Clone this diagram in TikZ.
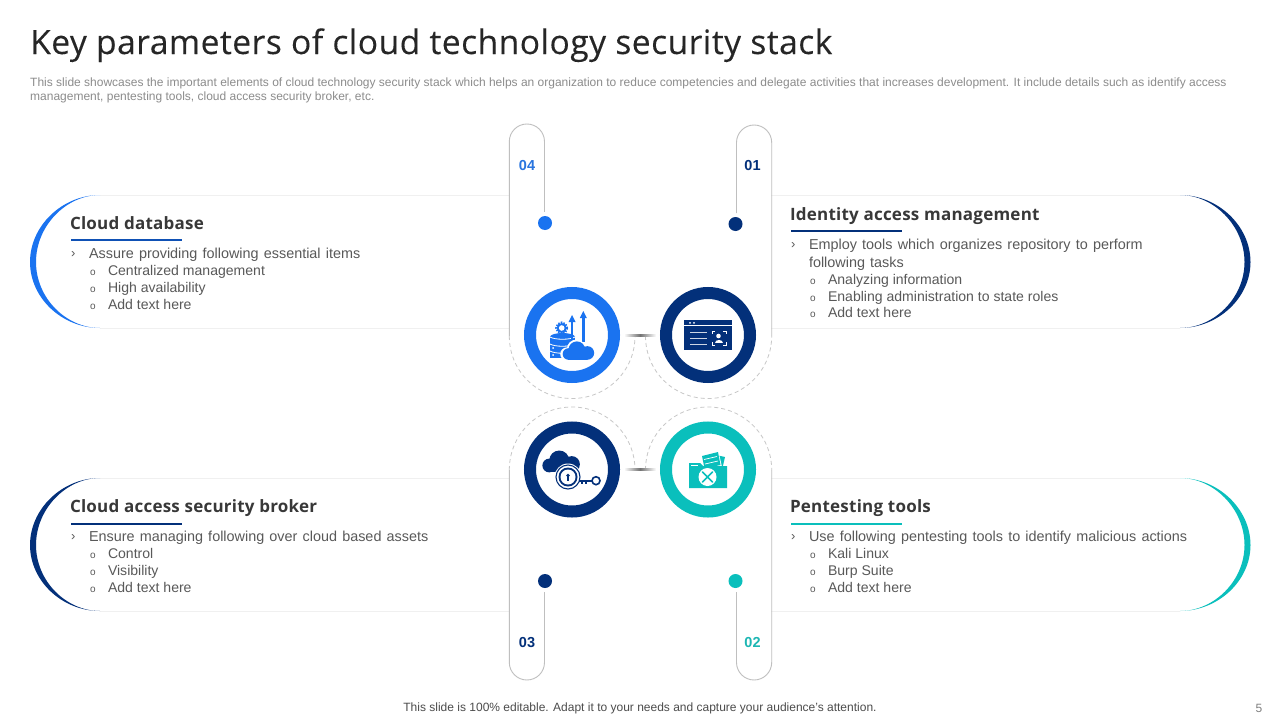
\documentclass[tikz,border=0pt]{standalone}
\usepackage{fontspec}
\setmainfont{Liberation Sans}
\newfontfamily\headfont[LetterSpace=1.4]{Open Sans}
\newfontfamily\titlefont[LetterSpace=1.4,FakeBold=0.12]{Open Sans}
\newfontfamily\lvlone[WordSpace=1.3]{Liberation Sans}
\usetikzlibrary{calc}
\definecolor{cblue}{HTML}{1A73F0}
\definecolor{cnavy}{HTML}{03307A}
\definecolor{cteal}{HTML}{0ABFBC}
\definecolor{rulegray}{HTML}{F0F0F0}
\definecolor{pillgray}{HTML}{BFBFBF}
\definecolor{bodygray}{HTML}{595959}
\newcommand{\fs}[1]{\fontsize{#1}{#1}\selectfont}
\tikzset{
  x=1pt,y=-1pt,
  txt/.style={anchor=base west,inner sep=0pt,outer sep=0pt,text=bodygray,font=\lvlone\fs{14.4}},
  txtb/.style={anchor=base west,inner sep=0pt,outer sep=0pt,text=bodygray,font=\fs{14.05}},
  head/.style={anchor=base west,inner sep=0pt,outer sep=0pt,text=black!78,font=\headfont\bfseries\fs{17}},
  small/.style={anchor=base west,inner sep=0pt,text=gray!90,font=\fs{12}},
  ring/.style={circle,draw=#1,line width=12pt,minimum size=84pt,inner sep=0pt,fill=white},
  halo/.style={circle,fill=white,minimum size=22pt,inner sep=0pt},
  dot/.style={circle,fill=#1,minimum size=14pt,inner sep=0pt},
  num/.style={font=\bfseries\fs{14.5},inner sep=0pt,text=#1},
  pill/.style={draw=pillgray,line width=0.9pt,rounded corners=17.6pt},
  dasharc/.style={draw=black!22,line width=0.8pt,dash pattern=on 4pt off 3pt},
  panel/.style={draw=rulegray,line width=1pt},
  hrule/.style={draw=#1,line width=1.8pt},
  tick/.style={anchor=base west,inner sep=0pt,text=bodygray,font=\fs{13}},
  sub/.style={anchor=base west,inner sep=0pt,text=bodygray,font=\fs{10}},
}
\newcommand{\mycloud}[4]{% x y scale colour
  \begin{scope}[shift={(#1,#2)},scale=#3]
    \fill[#4] (-11,0) circle[radius=5.5] (-3,-4) circle[radius=8] (7,-1) circle[radius=6.5];
    \fill[#4] (-11,0) rectangle (7,5.5);
  \end{scope}}
\begin{document}
\begin{tikzpicture}
\useasboundingbox (0,0) rectangle (1280,720);
\fill[white] (0,0) rectangle (1280,720);
% title
\node[anchor=base west,inner sep=0pt,text=black!85,font=\titlefont\fs{33.6}] (title) at (30,54) {Key parameters of cloud technology security stack};
\node[small] (subA) at (30,86) {This slide showcases the important elements of cloud technology security stack which helps an organization to reduce competencies and delegate activities that increases development. It include details such as identify access};
\node[small] (subB) at (30,100) {management, pentesting tools, cloud access security broker, etc.};
% panels
\draw[panel] (100,195) -- (509,195) (100,328) -- (509,328);
\draw[panel] (771,195) -- (1180,195) (771,328) -- (1180,328);
\draw[panel] (100,478) -- (509,478) (100,611) -- (509,611);
\draw[panel] (771,478) -- (1180,478) (771,611) -- (1180,611);
% crescents
\fill[cblue] (100,195) .. controls (62,195) and (30,226) .. (30,262) .. controls (30,298) and (62,328) .. (100,328) .. controls (66,328) and (36,298) .. (36,262) .. controls (36,226) and (66,195) .. (100,195);
\fill[cnavy] (100,478) .. controls (62,478) and (30,509) .. (30,545) .. controls (30,581) and (62,611) .. (100,611) .. controls (66,611) and (36,581) .. (36,545) .. controls (36,509) and (66,478) .. (100,478);
\fill[cnavy] (1180,195) .. controls (1218,195) and (1250.5,226) .. (1250.5,262) .. controls (1250.5,298) and (1218,328) .. (1180,328) .. controls (1214,328) and (1244.5,298) .. (1244.5,262) .. controls (1244.5,226) and (1214,195) .. (1180,195);
\fill[cteal] (1180,478) .. controls (1218,478) and (1250.5,509) .. (1250.5,545) .. controls (1250.5,581) and (1218,611) .. (1180,611) .. controls (1214,611) and (1244.5,581) .. (1244.5,545) .. controls (1244.5,509) and (1214,478) .. (1180,478);
% dot positions and connector ends
\coordinate (d4) at (545,223); \coordinate (d1) at (735.5,224);
\coordinate (d3) at (545,581); \coordinate (d2) at (735.5,581);
\coordinate (s4) at (544.5,223); \coordinate (s1) at (736.5,224);
\coordinate (s3) at (544.5,581); \coordinate (s2) at (736.5,581);
% pills
\draw[pill] (s4) -- (544.5,124) -- (509.3,124) -- (509.3,336);
\draw[pill] (s1) -- (736.5,125) -- (771.7,125) -- (771.7,336);
\draw[pill] (s3) -- (544.5,680) -- (509.3,680) -- (509.3,470);
\draw[pill] (s2) -- (736.5,680) -- (771.7,680) -- (771.7,470);
% dashed arcs
\draw[dasharc] (509.3,336) .. controls (509.3,371) and (537,398.5) .. (572,398.5) .. controls (607,398.5) and (635,371) .. (635,336);
\draw[dasharc] (645.5,336) .. controls (645.5,371) and (673,398.5) .. (708,398.5) .. controls (743,398.5) and (771.7,371) .. (771.7,336);
\draw[dasharc] (509.3,470) .. controls (509.3,435) and (537,407) .. (572,407) .. controls (607,407) and (635,435) .. (635,470);
\draw[dasharc] (645.5,470) .. controls (645.5,435) and (673,407) .. (708,407) .. controls (743,407) and (771.7,435) .. (771.7,470);
% halos and dots
\node[halo] at (d4) {}; \node[dot=cblue] (dotd) at (d4) {};
\node[halo] at (d1) {}; \node[dot=cnavy] (dota) at (d1) {};
\node[halo] at (d3) {}; \node[dot=cnavy] (dotc) at (d3) {};
\node[halo] at (d2) {}; \node[dot=cteal] (dotb) at (d2) {};
% numbers
\node[num=cblue!85!gray] (n4) at (527,165.7) {04};
\node[num=cnavy] (n1) at (752.5,165.7) {01};
\node[num=cnavy] (n3) at (527,642.7) {03};
\node[num=cteal!85!gray] (n2) at (752.5,642.7) {02};
% rings
\node[ring=cblue] (ra) at (572,335) {};
\node[ring=cnavy] (rb) at (708,335) {};
\node[ring=cnavy] (rc) at (572,469.5) {};
\node[ring=cteal] (rd) at (708,469.5) {};
% small links
\shade[left color=white,right color=black!55] (624,334.5) rectangle (640,336.5);
\shade[left color=black!55,right color=white] (640,334.5) rectangle (656,336.5);
\shade[left color=white,right color=black!55] (624,468.5) rectangle (640,470.5);
\shade[left color=black!55,right color=white] (640,468.5) rectangle (656,470.5);
% icon A
\draw[cblue,line width=2pt,dash pattern=on 1.5pt off 1.2pt] (561.7,328) circle[radius=5.5];
\fill[cblue] (561.7,328) circle[radius=5];
\fill[white] (561.7,328) circle[radius=2.8];
\fill[cblue] (550,337) rectangle (575,358);
\fill[cblue] (562.5,337) ellipse[x radius=12.5,y radius=4];
\draw[white,line width=0.8pt] (550,337) .. controls (555,340) and (570,340) .. (575,337) (550,344) .. controls (555,347) and (570,347) .. (575,344) (550,351) .. controls (555,354) and (570,354) .. (575,351);
\fill[white] (553,348) circle[radius=1] (553,355) circle[radius=1];
\draw[cblue,line width=2.4pt] (572,340) -- (572,320);
\fill[cblue] (572,315) -- (575.5,322) -- (568.5,322) -- cycle;
\draw[cblue,line width=2.4pt] (583.3,342) -- (583.3,316);
\fill[cblue] (583.3,311) -- (586.8,318) -- (579.8,318) -- cycle;
\mycloud{580}{354}{1.2}{white}
\mycloud{580}{354}{1.05}{cblue}
% icon B
\fill[cnavy] (684,320) rectangle (732,350);
\draw[white,line width=0.6pt] (684,325.7) -- (732,325.7);
\fill[white] (690,322.8) circle[radius=1] (694,322.8) circle[radius=1];
\draw[white!80!cnavy,line width=0.7pt] (690,332.3) -- (707,332.3) (690,338.3) -- (707,338.3) (690,344) -- (707,344);
\draw[white,line width=0.6pt] (712,334) -- (712,331) -- (715,331) (723,331) -- (726,331) -- (726,334) (726,342) -- (726,345) -- (723,345) (715,345) -- (712,345) -- (712,342);
\fill[white] (718.5,336) circle[radius=2.3];
\fill[white] (714.5,343) .. controls (714.5,339) and (722.5,339) .. (722.5,343) -- cycle;
% icon C
\mycloud{563}{465.5}{1.25}{cnavy}
\fill[white] (568,477) circle[radius=13.5];
\draw[cnavy,line width=1.1pt] (568,477) circle[radius=12];
\fill[cnavy] (568,477) circle[radius=9.5];
\fill[white] (568,477) circle[radius=7.5];
\fill[cnavy] (568,475.5) circle[radius=1.8];
\fill[cnavy] (567.2,475.5) rectangle (568.8,481);
\draw[cnavy,line width=1.6pt] (579,480.7) -- (592,480.7);
\draw[cnavy,line width=1.2pt] (582,480.7) -- (582,484) (586,480.7) -- (586,483.5);
\draw[cnavy,line width=1.6pt] (596,480.7) circle[radius=4];
% icon D
\fill[cteal] (716,455) -- (725,457) -- (722,470) -- (713,470) -- cycle;
\fill[white] (701.5,456) -- (718.5,451.5) -- (722,467) -- (705,470) -- cycle;
\fill[cteal] (702,456) -- (718,452) -- (720.5,465) -- (704.5,468.5) -- cycle;
\draw[white,line width=0.7pt] (704,459.5) -- (717,456.5) (705,464) -- (718,461);
\fill[cteal] (689,463) -- (700,463) -- (703,466) -- (727,466) -- (727,488) -- (689,488) -- cycle;
\fill[white] (691,464.5) rectangle (698,466);
\fill[white] (707.5,477) circle[radius=9];
\draw[cteal,line width=1.7pt,line cap=round] (702.5,472) -- (712.5,482) (712.5,472) -- (702.5,482);
% text: cloud database
\node[head] (h4) at (70,229) {Cloud database};
\draw[hrule=cblue!50!cnavy] (71,240) -- (182,240);
\node[tick] at (71,257) {›}; \node[txt] (t41) at (89,258) {Assure providing following essential items};
\node[sub] at (90,275) {o}; \node[txtb] (t42) at (108,275) {Centralized management};
\node[sub] at (90,292) {o}; \node[txtb] (t43) at (108,292) {High availability};
\node[sub] at (90,309) {o}; \node[txtb] (t44) at (108,309) {Add text here};
% text: identity
\node[head] (h1) at (790,220) {Identity access management};
\draw[hrule=cnavy] (791,231) -- (902,231);
\node[tick] at (791,248) {›}; \node[txt] (t11) at (809,249) {Employ tools which organizes repository to perform};
\node[txt] (t12) at (809,267) {following tasks};
\node[sub] at (810,284) {o}; \node[txtb] (t13) at (828,284) {Analyzing information};
\node[sub] at (810,301) {o}; \node[txtb] (t14) at (828,301) {Enabling administration to state roles};
\node[sub] at (810,317) {o}; \node[txtb] (t15) at (828,317) {Add text here};
% text: broker
\node[head] (h3) at (70,512) {Cloud access security broker};
\draw[hrule=cnavy] (71,524) -- (182,524);
\node[tick] at (71,540) {›}; \node[txt] (t31) at (89,541) {Ensure managing following over cloud based assets};
\node[sub] at (90,558) {o}; \node[txtb] (t32) at (108,558) {Control};
\node[sub] at (90,575) {o}; \node[txtb] (t33) at (108,575) {Visibility};
\node[sub] at (90,592) {o}; \node[txtb] (t34) at (108,592) {Add text here};
% text: pentesting
\node[head] (h2) at (790,512) {Pentesting tools};
\draw[hrule=cteal] (791,524) -- (902,524);
\node[tick] at (791,540) {›}; \node[txt] (t21) at (809,541) {Use following pentesting tools to identify malicious actions};
\node[sub] at (810,558) {o}; \node[txtb] (t22) at (828,558) {Kali Linux};
\node[sub] at (810,575) {o}; \node[txtb] (t23) at (828,575) {Burp Suite};
\node[sub] at (810,592) {o}; \node[txtb] (t24) at (828,592) {Add text here};
% footer
\node[inner sep=0pt,anchor=base,text=black!70,font=\fs{12}] (foot) at (640,711) {This slide is 100\% editable. Adapt it to your needs and capture your audience's attention.};
\node[inner sep=0pt,anchor=base,text=gray,font=\fs{12}] (pg) at (1259,712) {5};
\end{tikzpicture}
\end{document}
